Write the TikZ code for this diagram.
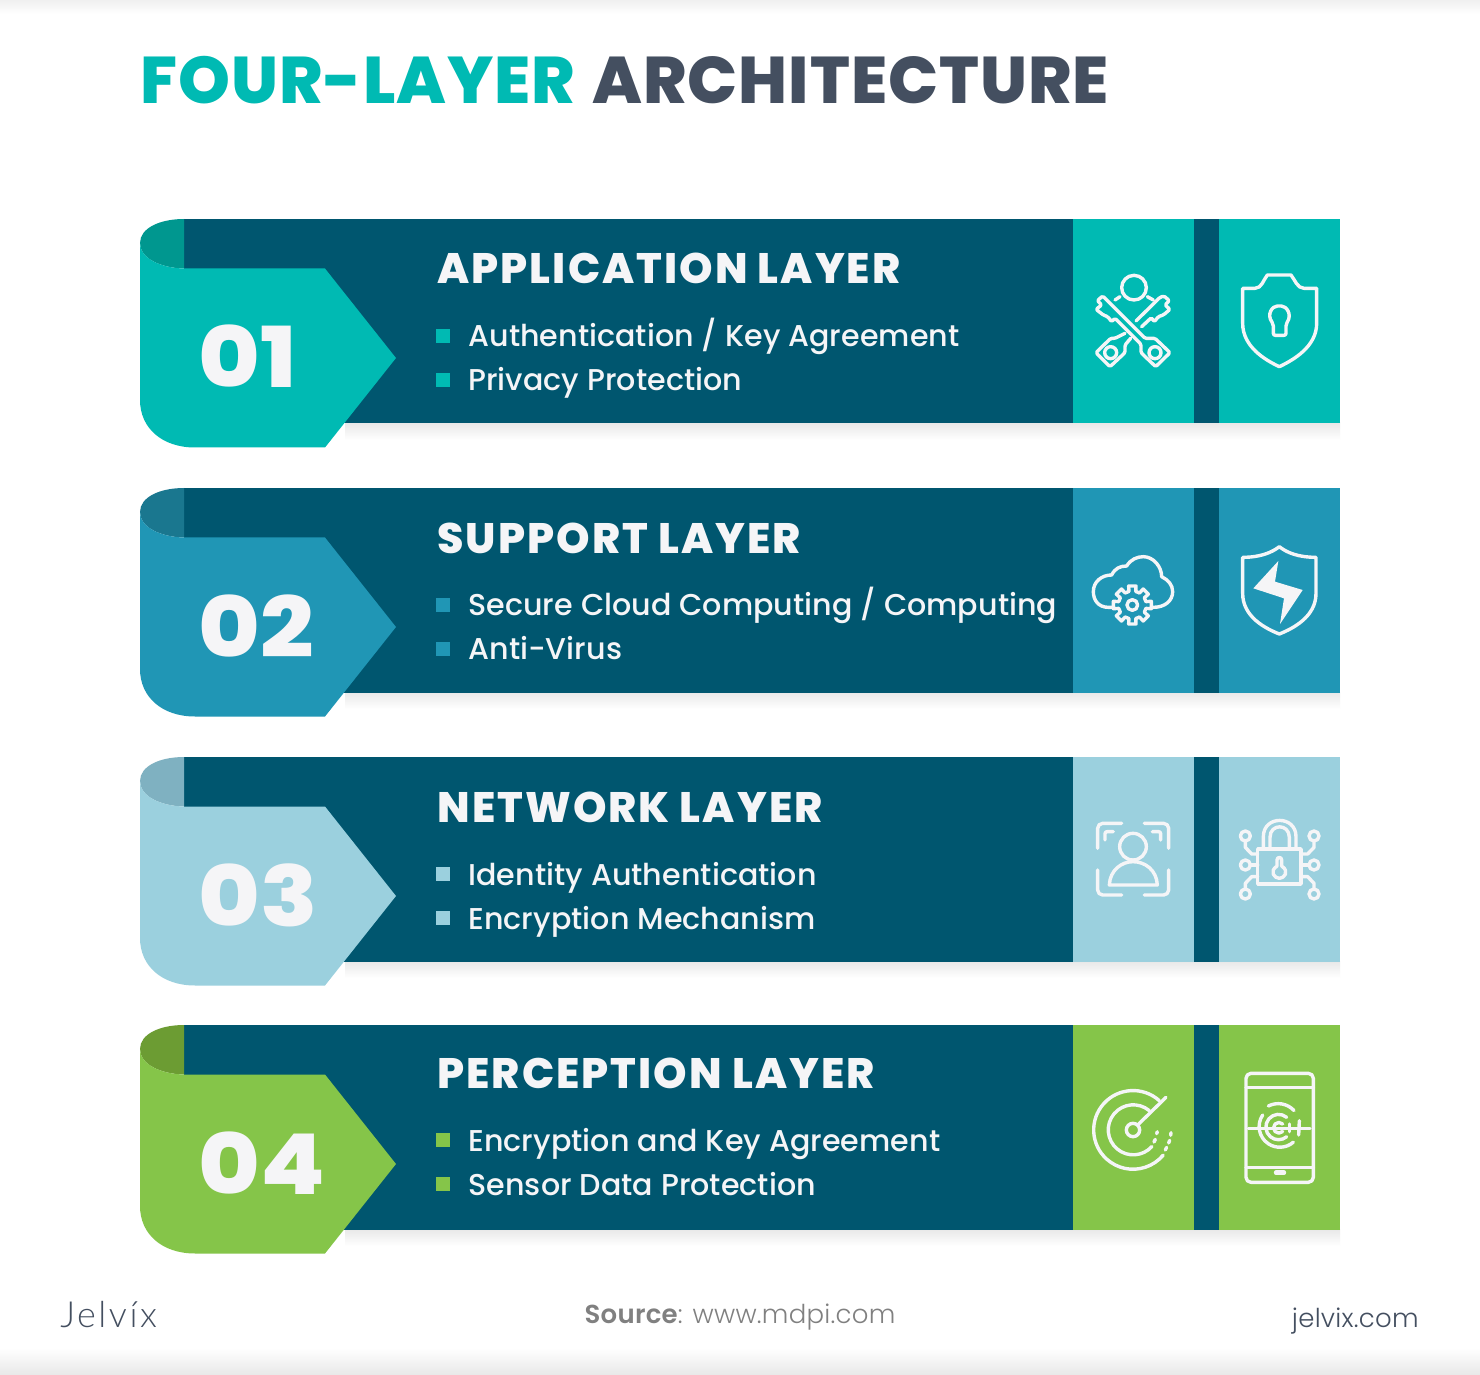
\documentclass[tikz,border=0pt]{standalone}
\usepackage{fontspec}
\setmainfont{Poppins}
\newfontfamily\titlefont[LetterSpace=1.5]{Poppins ExtraBold}
\newfontfamily\numberfont[FakeStretch=1.12]{Poppins ExtraBold}
\newfontfamily\headfont[LetterSpace=4.8]{Poppins ExtraBold}
\newfontfamily\itemfont[LetterSpace=0.2]{Poppins Medium}
\newfontfamily\footfont[LetterSpace=1]{Poppins Light}
\newfontfamily\logofont[LetterSpace=7]{Lato Light}
\definecolor{barblue}{HTML}{00566F}
\definecolor{teal1}{HTML}{00BAB3}
\definecolor{teal2}{HTML}{00978F}
\definecolor{blue1}{HTML}{2096B5}
\definecolor{blue2}{HTML}{1A778F}
\definecolor{light1}{HTML}{9BD0DE}
\definecolor{light2}{HTML}{7FB1C1}
\definecolor{green1}{HTML}{85C549}
\definecolor{green2}{HTML}{6C9C33}
\definecolor{slate}{HTML}{444F60}
\definecolor{iconwhite}{HTML}{F5F5F7}

\begin{document}
\begin{tikzpicture}[x=0.5pt,y=-0.5pt]
  \tikzstyle{icon} = [draw=iconwhite, line width=1.7pt, line join=round, line cap=round]
  \tikzstyle{iconfine} = [x=0.16667pt, y=-0.16667pt]
  \tikzstyle{shadow} = [draw=none, top color=black!9, bottom color=white]
  \tikzstyle{heading} = [anchor=base west, inner sep=0pt, text=iconwhite, font=\headfont\fontsize{21.3}{22}\selectfont]
  \tikzstyle{item} = [anchor=base west, inner sep=0pt, text=iconwhite, font=\itemfont\fontsize{15.05}{16}\selectfont]
  \tikzstyle{number} = [anchor=base west, inner sep=0pt, text=iconwhite, font=\numberfont\fontsize{42}{42}\selectfont]
  \tikzstyle{foot} = [inner sep=0pt, font=\footfont\fontsize{13}{13}\selectfont]

  \useasboundingbox (0,0) rectangle (1480,1375);
  \fill[white] (0,0) rectangle (1480,1375);
  \shade[top color=black!6, bottom color=white] (0,0) rectangle (1480,14);
  \shade[top color=white, bottom color=black!9] (0,1348) rectangle (1480,1375);

  \node[anchor=base west, inner sep=0pt, text=teal1, font=\titlefont\fontsize{33}{33}\selectfont] (title1) at (140,104) {FOUR-LAYER};
  \node[anchor=base west, inner sep=0pt, text=slate, font=\titlefont\fontsize{33}{33}\selectfont] (title2) at (592,104) {ARCHITECTURE};

  % application layer
  \begin{scope}[shift={(0,0)}]
    \shade[shadow] (345,423) rectangle (1340,440);
    \fill[barblue] (184,219) rectangle (1073,423.5);
    \fill[barblue] (1194,219) rectangle (1219,423.5);
    \fill[teal1] (1073,219) rectangle (1194,423.5);
    \fill[teal1] (1219,219) rectangle (1340,423.5);
    \fill[teal2] (184,219) .. controls (160,219) and (140,228) .. (140,243) .. controls (140,258) and (160,268) .. (184,268.5) -- cycle;
    \fill[teal1] (140,243) .. controls (140,258) and (160,268) .. (184,268.5) -- (325,268.5) -- (396,358) -- (325,447.5) -- (195,447.5) .. controls (162,447.5) and (140,428) .. (140,400) -- cycle;
  \end{scope}
  \node[number] (num1) at (198,388) {01};
  \node[heading] (head1) at (437,284) {APPLICATION LAYER};
  \fill[teal1] (436,329) rectangle (450,343);
  \fill[teal1] (436,373) rectangle (450,387);
  \node[item] (item1a) at (468,347) {Authentication / Key Agreement};
  \node[item] (item1b) at (468,391) {Privacy Protection};

  % crossed keys
  \begin{scope}[shift={(1060,210)}, iconfine]
    \draw[icon] (222,233) circle (37);
    \draw[icon] (165,270) -- (180,260);
    \draw[icon] (262,260) -- (280,270);
    \draw[icon, rounded corners=0.7pt] (128,258) -- (255,385) -- (285,385) -- (330,428) -- (287,470) -- (243,428) -- (243,403) -- (165,325) -- (155,335) -- (143,320) -- (130,315) -- (108,298) -- (125,285) -- (112,272) -- cycle;
    \draw[icon] (285,428) circle (18);
    \draw[icon, rounded corners=0.7pt] (228,333) -- (300,262) -- (312,258) -- (328,272) -- (315,285) -- (330,298) -- (310,315) -- (295,320) -- (283,335) -- (275,325);
    \draw[icon] (245,350) -- (272,325);
    \draw[icon, rounded corners=0.7pt] (195,370) -- (165,385) -- (152,385) -- (108,428) -- (150,470) -- (195,428) -- (195,405) -- (212,385);
    \draw[icon] (152,428) circle (18);
  \end{scope}

  % shield with keyhole
  \begin{scope}[shift={(1060,210)}, iconfine]
    \draw[icon] (548,235) -- (585,235) .. controls (605,235) and (610,210) .. (622,195) -- (693,195) .. controls (705,210) and (712,235) .. (732,235) -- (770,235) -- (770,340) .. controls (770,410) and (700,450) .. (658,470) .. controls (615,450) and (548,410) .. (548,340) -- cycle;
    \draw[icon, rounded corners=1pt] (640,342) .. controls (618,312) and (638,288) .. (658,288) .. controls (678,288) and (698,312) .. (678,342) -- (678,376) -- (640,376) -- cycle;
  \end{scope}

  % support layer
  \begin{scope}[shift={(0,269)}]
    \shade[shadow] (345,423) rectangle (1340,440);
    \fill[barblue] (184,219) rectangle (1073,423.5);
    \fill[barblue] (1194,219) rectangle (1219,423.5);
    \fill[blue1] (1073,219) rectangle (1194,423.5);
    \fill[blue1] (1219,219) rectangle (1340,423.5);
    \fill[blue2] (184,219) .. controls (160,219) and (140,228) .. (140,243) .. controls (140,258) and (160,268) .. (184,268.5) -- cycle;
    \fill[blue1] (140,243) .. controls (140,258) and (160,268) .. (184,268.5) -- (325,268.5) -- (396,358) -- (325,447.5) -- (195,447.5) .. controls (162,447.5) and (140,428) .. (140,400) -- cycle;
  \end{scope}
  \node[number] (num2) at (198,657) {02};
  \node[heading] (head2) at (437,553) {SUPPORT LAYER};
  \fill[blue1] (436,598) rectangle (450,612);
  \fill[blue1] (436,642) rectangle (450,656);
  \node[item] (item2a) at (468,616) {Secure Cloud Computing / Computing};
  \node[item] (item2b) at (468,660) {Anti-Virus};

  % cloud with gear
  \begin{scope}[shift={(1060,480)}, iconfine]
    \draw[icon] (162,382) -- (145,382) .. controls (115,382) and (100,360) .. (100,335) .. controls (100,305) and (125,285) .. (155,285) .. controls (165,265) and (180,258) .. (200,258) .. controls (212,238) and (232,230) .. (250,230) .. controls (280,230) and (305,260) .. (305,290) .. controls (325,300) and (338,315) .. (338,335) .. controls (338,362) and (315,382) .. (280,382);
  \end{scope}
  \begin{scope}[shift={(1060,480)}, iconfine, shift={(217,375)}]
    \draw[icon] (-14:42) foreach \a in {0,45,...,315} { -- (\a-14:42) -- (\a-11:58) -- (\a+11:58) -- (\a+14:42) -- (\a+31:42) } -- cycle;
    \draw[icon] (0,0) circle (16);
  \end{scope}

  % shield with bolt
  \begin{scope}[shift={(1060,480)}, iconfine]
    \draw[icon] (548,232) .. controls (600,232) and (635,218) .. (658,200) .. controls (680,218) and (715,232) .. (768,232) -- (768,340) .. controls (768,410) and (700,445) .. (658,462) .. controls (615,445) and (548,410) .. (548,340) -- cycle;
    \fill[iconwhite] (655,243) -- (580,325) -- (672,355) -- (660,432) -- (728,330) -- (645,305) -- cycle;
  \end{scope}

  % network layer
  \begin{scope}[shift={(0,538)}]
    \shade[shadow] (345,423) rectangle (1340,440);
    \fill[barblue] (184,219) rectangle (1073,423.5);
    \fill[barblue] (1194,219) rectangle (1219,423.5);
    \fill[light1] (1073,219) rectangle (1194,423.5);
    \fill[light1] (1219,219) rectangle (1340,423.5);
    \fill[light2] (184,219) .. controls (160,219) and (140,228) .. (140,243) .. controls (140,258) and (160,268) .. (184,268.5) -- cycle;
    \fill[light1] (140,243) .. controls (140,258) and (160,268) .. (184,268.5) -- (325,268.5) -- (396,358) -- (325,447.5) -- (195,447.5) .. controls (162,447.5) and (140,428) .. (140,400) -- cycle;
  \end{scope}
  \node[number] (num3) at (198,926) {03};
  \node[heading] (head3) at (437,822) {NETWORK LAYER};
  \fill[light1] (436,867) rectangle (450,881);
  \fill[light1] (436,911) rectangle (450,925);
  \node[item] (item3a) at (468,885) {Identity Authentication};
  \node[item] (item3b) at (468,929) {Encryption Mechanism};

  % face scan
  \begin{scope}[shift={(1060,750)}, iconfine]
    \draw[icon, rounded corners=2.5pt] (113,295) -- (113,220) -- (185,220);
    \draw[icon, rounded corners=2.5pt] (253,220) -- (326,220) -- (326,295);
    \draw[icon, rounded corners=2.5pt] (113,360) -- (113,435) -- (185,435);
    \draw[icon, rounded corners=2.5pt] (253,435) -- (326,435) -- (326,360);
    \draw[icon, rounded corners=1pt] (135,270) -- (135,245) -- (160,245);
    \draw[icon, rounded corners=1pt] (277,245) -- (302,245) -- (302,270);
    \draw[icon] (219,290) circle (40);
    \draw[icon] (148,405) .. controls (150,360) and (185,335) .. (219,335) .. controls (255,335) and (290,360) .. (292,405) -- cycle;
  \end{scope}

  % chip lock
  \begin{scope}[shift={(1060,750)}, iconfine]
    \draw[icon] (593,297) rectangle (723,402);
    \draw[icon] (610,295) -- (610,260) .. controls (610,195) and (708,195) .. (708,260) -- (708,295);
    \draw[icon] (630,295) -- (630,262) .. controls (630,220) and (688,220) .. (688,262) -- (688,295);
    \draw[icon] (651,348) -- (651,330) .. controls (651,320) and (665,320) .. (665,330) -- (665,348) .. controls (690,365) and (672,385) .. (658,385) .. controls (644,385) and (626,365) .. (651,348) -- cycle;
    \draw[icon] (556,258) circle (15);
    \draw[icon] (556,345) circle (15);
    \draw[icon] (556,432) circle (15);
    \draw[icon] (762,258) circle (15);
    \draw[icon] (762,345) circle (15);
    \draw[icon] (762,432) circle (15);
    \draw[icon] (556,273) -- (556,292) -- (575,312) -- (593,312);
    \draw[icon] (571,345) -- (593,345);
    \draw[icon] (556,417) -- (556,400) -- (575,380) -- (593,380);
    \draw[icon] (762,273) -- (762,292) -- (743,312) -- (723,312);
    \draw[icon] (747,345) -- (723,345);
    \draw[icon] (762,417) -- (762,400) -- (743,380) -- (723,380);
  \end{scope}

  % perception layer
  \begin{scope}[shift={(0,806)}]
    \shade[shadow] (345,423) rectangle (1340,440);
    \fill[barblue] (184,219) rectangle (1073,423.5);
    \fill[barblue] (1194,219) rectangle (1219,423.5);
    \fill[green1] (1073,219) rectangle (1194,423.5);
    \fill[green1] (1219,219) rectangle (1340,423.5);
    \fill[green2] (184,219) .. controls (160,219) and (140,228) .. (140,243) .. controls (140,258) and (160,268) .. (184,268.5) -- cycle;
    \fill[green1] (140,243) .. controls (140,258) and (160,268) .. (184,268.5) -- (325,268.5) -- (396,358) -- (325,447.5) -- (195,447.5) .. controls (162,447.5) and (140,428) .. (140,400) -- cycle;
  \end{scope}
  \node[number] (num4) at (198,1194) {04};
  \node[heading] (head4) at (437,1088) {PERCEPTION LAYER};
  \fill[green1] (436,1133) rectangle (450,1147);
  \fill[green1] (436,1177) rectangle (450,1191);
  \node[item] (item4a) at (468,1151) {Encryption and Key Agreement};
  \node[item] (item4b) at (468,1195) {Sensor Data Protection};

  % radar
  \begin{scope}[shift={(1060,1020)}, iconfine]
    \draw[icon] (219,330) circle (20);
    \draw[icon] (233,315) -- (318,232);
    \draw[icon] (298,242) arc (-48:-320:118);
    \draw[icon] (268,272) arc (-50:-318:75);
    \draw[icon] (333,338) -- (332,346);
    \draw[icon] (329,361) -- (326,369);
    \draw[icon] (320,382) -- (316,390);
    \draw[icon] (292,335) -- (290,341);
    \draw[icon] (286,358) -- (282,366);
  \end{scope}

  % phone with fingerprint
  \begin{scope}[shift={(1060,1020)}, iconfine]
    \draw[icon, rounded corners=2.5pt] (558,160) rectangle (760,487);
    \draw[icon] (558,203) -- (760,203);
    \draw[icon] (558,442) -- (760,442);
    \draw[icon] (565,325) -- (750,325);
    \draw[icon, line width=2.2pt] (648,458) -- (672,458);
    \draw[icon] (625,258) arc (-117:-43:65);
    \draw[icon] (608,285) arc (-146:-311:62);
    \draw[icon] (680,292) arc (-50:-310:38);
    \draw[icon] (668,312) arc (-45:-315:16);
    \draw[icon] (688,312) -- (688,335);
    \draw[icon] (718,302) -- (716,345);
  \end{scope}

  \node[anchor=base west, inner sep=0pt, text=slate, font=\logofont\fontsize{18}{18}\selectfont] (logo) at (60,1327) {Jelvíx};
  \node[foot, anchor=base, text=black!50] (source) at (740,1323) {\textbf{Source}: www.mdpi.com};
  \node[foot, anchor=base east, text=slate] (site) at (1419,1327) {jelvix.com};
\end{tikzpicture}
\end{document}
